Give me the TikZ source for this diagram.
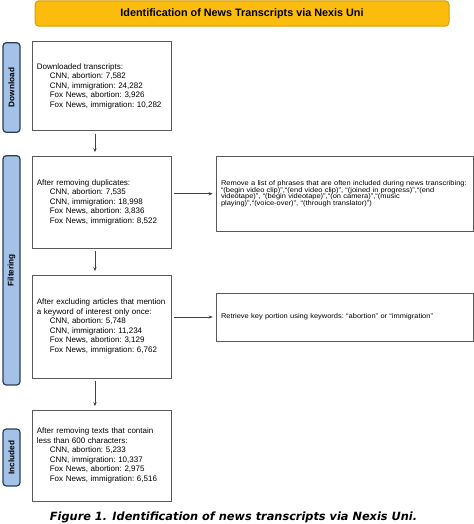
\documentclass[tikz,border=0pt]{standalone}
\usepackage{fontspec}
\setmainfont{Liberation Sans}
\newfontfamily\sidefont[FakeStretch=1.1]{Liberation Sans}
\newfontfamily\capfont{DejaVu Sans}
\usetikzlibrary{arrows.meta}

\newcommand\subln{\hspace*{9.75pt}}

\tikzset{every picture/.style={line width=0.75pt}}
\tikzset{
  titlebar/.style={draw={rgb, 255:red, 214; green, 158; blue, 0 },fill={rgb, 255:red, 252; green, 188; blue, 14 },rounded corners=3pt,minimum width=310.5pt,minimum height=19.1pt,inner sep=0pt,font=\bfseries\fontsize{8.1}{9.7}\selectfont},
  phase/.style={draw={rgb, 255:red, 44; green, 62; blue, 85 },fill={rgb, 255:red, 164; green, 194; blue, 232 },line width=0.9pt,rounded corners=2.5pt,rotate=90,minimum height=12.75pt,inner sep=0pt,font=\bfseries\fontsize{6.15}{7}\selectfont},
  stagebox/.style={draw={rgb, 255:red, 89; green, 89; blue, 89 },minimum width=104.25pt,text width=97pt,inner xsep=3.625pt,inner ysep=0pt,align=left,font=\fontsize{6}{7.1}\selectfont,execute at begin node={\frenchspacing\hyphenpenalty=10000\relax}},
  sidebox/.style={draw={rgb, 255:red, 89; green, 89; blue, 89 },minimum width=192.75pt,text width=186pt,inner xsep=3.375pt,inner ysep=0pt,align=left,font=\sidefont\fontsize{5.1}{5.1}\selectfont,execute at begin node={\frenchspacing\hyphenpenalty=10000\relax}},
  arr/.style={draw={rgb, 255:red, 64; green, 64; blue, 64 },line width=0.5pt,-{Stealth[length=3pt,width=2.4pt]},shorten <=2pt,shorten >=2.5pt}
}

\begin{document}
\begin{tikzpicture}[x=0.75pt,y=0.75pt,yscale=-1,xscale=1]
\useasboundingbox (0,0) rectangle (474,524);

% Title
\draw (242,13.5) node [titlebar] (title) {Identification of News Transcripts via Nexis Uni};

% Phase labels
\draw (11.5,87.5) node [phase,minimum width=67.2pt] (download) {Download};
\draw (11.5,270.35) node [phase,minimum width=172pt] (filtering) {Filtering};
\draw (11.5,457.5) node [phase,minimum width=42.75pt] (included) {Included};

% Stage boxes
\draw (101.5,86.25) node [stagebox,minimum height=66.4pt] (dl) {Downloaded transcripts:\\
\subln CNN, abortion: 7,582\\
\subln CNN, immigration: 24,282\\
\subln Fox News, abortion: 3,926\\
\subln Fox News, immigration: 10,282};
\draw (101.5,202) node [stagebox,minimum height=69pt] (dup) {After removing duplicates:\\
\subln CNN, abortion: 7,535\\
\subln CNN, immigration: 18,998\\
\subln Fox News, abortion: 3,836\\
\subln Fox News, immigration: 8,522};
\draw (101.5,326.5) node [stagebox,minimum height=77.25pt] (kw) {After excluding articles that mention\\
a keyword of interest only once:\\
\subln CNN, abortion: 5,748\\
\subln CNN, immigration: 11,234\\
\subln Fox News, abortion: 3,129\\
\subln Fox News, immigration: 6,762};
\draw (101.5,455.5) node [stagebox,minimum height=68.25pt] (len) {After removing texts that contain\\
less than 600 characters:\\
\subln CNN, abortion: 5,233\\
\subln CNN, immigration: 10,337\\
\subln Fox News, abortion: 2,975\\
\subln Fox News, immigration: 6,516};

% Side boxes
\draw (345,193.75) node [sidebox,minimum height=55.9pt] (phr) {Remove a list of phrases that are often included during news transcribing:\\
“(begin video clip)”,“(end video clip)”, “(joined in progress)”,“(end\\
videotape)”, “(begin videotape)”,“(on camera)”,“(music\\
playing)”,“(voice-over)”, “(through translator)”)};
\draw (345,317) node [sidebox,minimum height=36pt] (key) {Retrieve key portion using keywords: “abortion” or “immigration”};

% Arrows
\draw [arr] ([xshift=-4.9pt]dl.south) -- ([xshift=-4.9pt]dup.north);
\draw [arr] ([xshift=-4.9pt]dup.south) -- ([xshift=-4.9pt]kw.north);
\draw [arr] ([xshift=-4.9pt]kw.south) -- ([xshift=-4.9pt]len.north);
\draw [arr] (dup.east |- phr.west) -- (phr.west);
\draw [arr] (kw.east |- key.west) -- (key.west);

% Caption
\draw (233.5,517) node [font=\capfont\bfseries\itshape\fontsize{8.5}{10}\selectfont] (cap) {Figure 1. Identification of news transcripts via Nexis Uni.};

\end{tikzpicture}
\end{document}
